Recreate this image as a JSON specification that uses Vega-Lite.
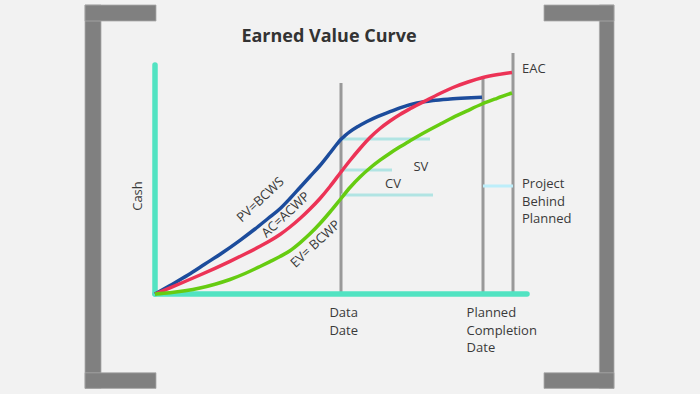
{
  "$schema": "https://vega.github.io/schema/vega-lite/v6.json",
  "width": 700,
  "height": 394,
  "autosize": {"type": "fit", "contains": "padding"},
  "padding": 0,
  "background": "#f2f2f2",
  "config": {"view": {"stroke": null}},
  "datasets": {
    "brackets": [
      {"t": -17.5, "t2": -13.5, "cash": 144.5, "cash2": -47.2},
      {"t": -17.5, "t2": 0.25, "cash": 144.5, "cash2": 136.5},
      {"t": -17.5, "t2": 0.25, "cash": -39.4, "cash2": -47.2},
      {"t": 111.1, "t2": 114.75, "cash": 144.5, "cash2": -47.2},
      {"t": 97.25, "t2": 114.75, "cash": 144.5, "cash2": 136.5},
      {"t": 97.25, "t2": 114.75, "cash": -39.4, "cash2": -47.2}
    ],
    "axesLines": [
      {"t": 0, "t2": 0, "cash": 0, "cash2": 114.5},
      {"t": 0, "t2": 93, "cash": 0, "cash2": 0}
    ],
    "dates": [
      {"t": 46.5, "t2": 46.5, "cash": 0, "cash2": 105.5},
      {"t": 82, "t2": 82, "cash": 0, "cash2": 109},
      {"t": 89.5, "t2": 89.5, "cash": 0, "cash2": 120.5}
    ],
    "variances": [
      {"t": 46.5, "t2": 68.75, "cash": 77.5, "cash2": 77.5},
      {"t": 46.5, "t2": 59.25, "cash": 62, "cash2": 62},
      {"t": 46.5, "t2": 69.5, "cash": 49.5, "cash2": 49.5}
    ],
    "behind": [
      {"t": 82, "t2": 89.5, "cash": 54, "cash2": 54}
    ],
    "curves": [
      {"series": "PV", "t": 0, "cash": 0},
      {"series": "PV", "t": 3.75, "cash": 4.25},
      {"series": "PV", "t": 8.25, "cash": 9.5},
      {"series": "PV", "t": 12.5, "cash": 15},
      {"series": "PV", "t": 16.75, "cash": 20.5},
      {"series": "PV", "t": 21.25, "cash": 26.85},
      {"series": "PV", "t": 25, "cash": 32.5},
      {"series": "PV", "t": 28.25, "cash": 37.75},
      {"series": "PV", "t": 31.25, "cash": 42.6},
      {"series": "PV", "t": 33.75, "cash": 47.75},
      {"series": "PV", "t": 36.25, "cash": 53.25},
      {"series": "PV", "t": 38.75, "cash": 58.75},
      {"series": "PV", "t": 41.25, "cash": 64.25},
      {"series": "PV", "t": 43.75, "cash": 70.5},
      {"series": "PV", "t": 45.5, "cash": 75},
      {"series": "PV", "t": 46.5, "cash": 77.35},
      {"series": "PV", "t": 47.5, "cash": 79.15},
      {"series": "PV", "t": 48.75, "cash": 81.15},
      {"series": "PV", "t": 50.75, "cash": 83.75},
      {"series": "PV", "t": 53, "cash": 86.25},
      {"series": "PV", "t": 55.75, "cash": 88.85},
      {"series": "PV", "t": 58.75, "cash": 91.15},
      {"series": "PV", "t": 61.25, "cash": 93.1},
      {"series": "PV", "t": 65.5, "cash": 95.5},
      {"series": "PV", "t": 69.5, "cash": 96.75},
      {"series": "PV", "t": 73.75, "cash": 97.5},
      {"series": "PV", "t": 77.75, "cash": 98},
      {"series": "PV", "t": 81.75, "cash": 98.4},
      {"series": "AC", "t": 0, "cash": 0},
      {"series": "AC", "t": 3.75, "cash": 3.1},
      {"series": "AC", "t": 7.5, "cash": 6.25},
      {"series": "AC", "t": 11.25, "cash": 9.5},
      {"series": "AC", "t": 15, "cash": 12.85},
      {"series": "AC", "t": 18.75, "cash": 16.35},
      {"series": "AC", "t": 22.5, "cash": 20},
      {"series": "AC", "t": 26.25, "cash": 23.85},
      {"series": "AC", "t": 28.75, "cash": 26.6},
      {"series": "AC", "t": 31.25, "cash": 29.75},
      {"series": "AC", "t": 33.75, "cash": 33.5},
      {"series": "AC", "t": 36.25, "cash": 37.75},
      {"series": "AC", "t": 38.75, "cash": 42.5},
      {"series": "AC", "t": 41.25, "cash": 47.75},
      {"series": "AC", "t": 43.75, "cash": 53.75},
      {"series": "AC", "t": 46.5, "cash": 61},
      {"series": "AC", "t": 48.75, "cash": 66.75},
      {"series": "AC", "t": 51.25, "cash": 72.75},
      {"series": "AC", "t": 53.75, "cash": 78.25},
      {"series": "AC", "t": 56.25, "cash": 82.75},
      {"series": "AC", "t": 58.75, "cash": 86.5},
      {"series": "AC", "t": 61.25, "cash": 89.75},
      {"series": "AC", "t": 63.75, "cash": 92.6},
      {"series": "AC", "t": 68, "cash": 97},
      {"series": "AC", "t": 71.25, "cash": 100.25},
      {"series": "AC", "t": 74.5, "cash": 103.25},
      {"series": "AC", "t": 78.25, "cash": 106},
      {"series": "AC", "t": 82, "cash": 108.25},
      {"series": "AC", "t": 85.75, "cash": 109.75},
      {"series": "AC", "t": 89.25, "cash": 110.75},
      {"series": "EV", "t": 0, "cash": 0},
      {"series": "EV", "t": 3.75, "cash": 0.6},
      {"series": "EV", "t": 7.5, "cash": 1.6},
      {"series": "EV", "t": 11.25, "cash": 3},
      {"series": "EV", "t": 15, "cash": 4.9},
      {"series": "EV", "t": 18.75, "cash": 7.25},
      {"series": "EV", "t": 22.5, "cash": 10.25},
      {"series": "EV", "t": 26.25, "cash": 13.75},
      {"series": "EV", "t": 28.75, "cash": 16.2},
      {"series": "EV", "t": 31.25, "cash": 18.75},
      {"series": "EV", "t": 33.75, "cash": 21.65},
      {"series": "EV", "t": 36.25, "cash": 25.6},
      {"series": "EV", "t": 38.75, "cash": 30.1},
      {"series": "EV", "t": 41.25, "cash": 35.25},
      {"series": "EV", "t": 43.75, "cash": 41},
      {"series": "EV", "t": 46.5, "cash": 47.75},
      {"series": "EV", "t": 48.75, "cash": 53.25},
      {"series": "EV", "t": 51.25, "cash": 58.5},
      {"series": "EV", "t": 53.75, "cash": 63},
      {"series": "EV", "t": 56.25, "cash": 66.9},
      {"series": "EV", "t": 58.75, "cash": 70.4},
      {"series": "EV", "t": 61.25, "cash": 73.6},
      {"series": "EV", "t": 63.75, "cash": 76.6},
      {"series": "EV", "t": 66.25, "cash": 79.5},
      {"series": "EV", "t": 68.75, "cash": 82.25},
      {"series": "EV", "t": 71.25, "cash": 84.9},
      {"series": "EV", "t": 73.75, "cash": 87.5},
      {"series": "EV", "t": 77.75, "cash": 91.3},
      {"series": "EV", "t": 81.75, "cash": 95},
      {"series": "EV", "t": 85.5, "cash": 97.85},
      {"series": "EV", "t": 89.25, "cash": 100.5}
    ],
    "curveLabels": [
      {"label": "PV=BCWS", "t": 26.4, "cash": 47.1},
      {"label": "AC=ACWP", "t": 32.7, "cash": 39.55},
      {"label": "EV= BCWP", "t": 40.1, "cash": 25}
    ],
    "labels": [
      {"label": "SV", "t": 64.6, "cash": 61.65},
      {"label": "CV", "t": 57.5, "cash": 52.85},
      {"label": "EAC", "t": 91.75, "cash": 110.65},
      {"label": "Project", "t": 91.75, "cash": 52.85},
      {"label": "Behind", "t": 91.75, "cash": 44.15},
      {"label": "Planned", "t": 91.75, "cash": 35.35},
      {"label": "Data", "t": 43.6, "cash": -11.65},
      {"label": "Date", "t": 43.6, "cash": -20.5},
      {"label": "Planned", "t": 77.9, "cash": -11.65},
      {"label": "Completion", "t": 77.9, "cash": -20.5},
      {"label": "Date", "t": 77.9, "cash": -29.2}
    ],
    "yTitle": [
      {"label": "Cash", "t": -3.3, "cash": 49}
    ],
    "title": [
      {"label": "Earned Value Curve", "t": 43.5, "cash": 126.15}
    ]
  },
  "encoding": {
    "x": {"field": "t", "type": "quantitative", "scale": {"domain": [-38.75, 136.25], "nice": false, "zero": false}, "axis": null},
    "y": {"field": "cash", "type": "quantitative", "scale": {"domain": [-50, 147], "nice": false, "zero": false}, "axis": null}
  },
  "layer": [
    {
      "data": {"name": "brackets"},
      "mark": {"type": "rect", "color": "#808080", "stroke": "#a9a9a9", "strokeWidth": 0.8},
      "encoding": {"x2": {"field": "t2"}, "y2": {"field": "cash2"}}
    },
    {
      "data": {"name": "dates"},
      "mark": {"type": "rule", "color": "#999999", "strokeWidth": 3},
      "encoding": {"x2": {"field": "t2"}, "y2": {"field": "cash2"}}
    },
    {
      "data": {"name": "axesLines"},
      "mark": {"type": "rule", "color": "#52e3c2", "strokeWidth": 5.5, "strokeCap": "round"},
      "encoding": {"x2": {"field": "t2"}, "y2": {"field": "cash2"}}
    },
    {
      "data": {"name": "variances"},
      "mark": {"type": "rule", "color": "#b1e4e3", "strokeWidth": 3},
      "encoding": {"x2": {"field": "t2"}, "y2": {"field": "cash2"}}
    },
    {
      "data": {"name": "behind"},
      "mark": {"type": "rule", "color": "#bdeefa", "strokeWidth": 3},
      "encoding": {"x2": {"field": "t2"}, "y2": {"field": "cash2"}}
    },
    {
      "data": {"name": "curves"},
      "mark": {"type": "line", "strokeWidth": 3.5, "interpolate": "monotone"},
      "encoding": {
        "color": {"field": "series", "type": "nominal", "scale": {"domain": ["EV", "AC", "PV"], "range": ["#66cc11", "#ec3356", "#1c4c9c"]}, "legend": null},
        "order": {"field": "t", "type": "quantitative"}
      }
    },
    {
      "data": {"name": "curveLabels"},
      "mark": {"type": "text", "font": "Open Sans", "fontSize": 13, "color": "#3a3a3a", "angle": 317, "align": "center", "baseline": "middle"},
      "encoding": {"text": {"field": "label"}}
    },
    {
      "data": {"name": "labels"},
      "mark": {"type": "text", "font": "Open Sans", "fontSize": 13, "color": "#3a3a3a", "align": "left", "baseline": "alphabetic"},
      "encoding": {"text": {"field": "label"}}
    },
    {
      "data": {"name": "yTitle"},
      "mark": {"type": "text", "font": "Open Sans", "fontSize": 13, "color": "#3a3a3a", "angle": 270, "align": "center", "baseline": "alphabetic"},
      "encoding": {"text": {"field": "label"}}
    },
    {
      "data": {"name": "title"},
      "mark": {"type": "text", "font": "Open Sans", "fontSize": 18, "fontWeight": "bold", "color": "#333333", "align": "center", "baseline": "alphabetic"},
      "encoding": {"text": {"field": "label"}}
    }
  ]
}
